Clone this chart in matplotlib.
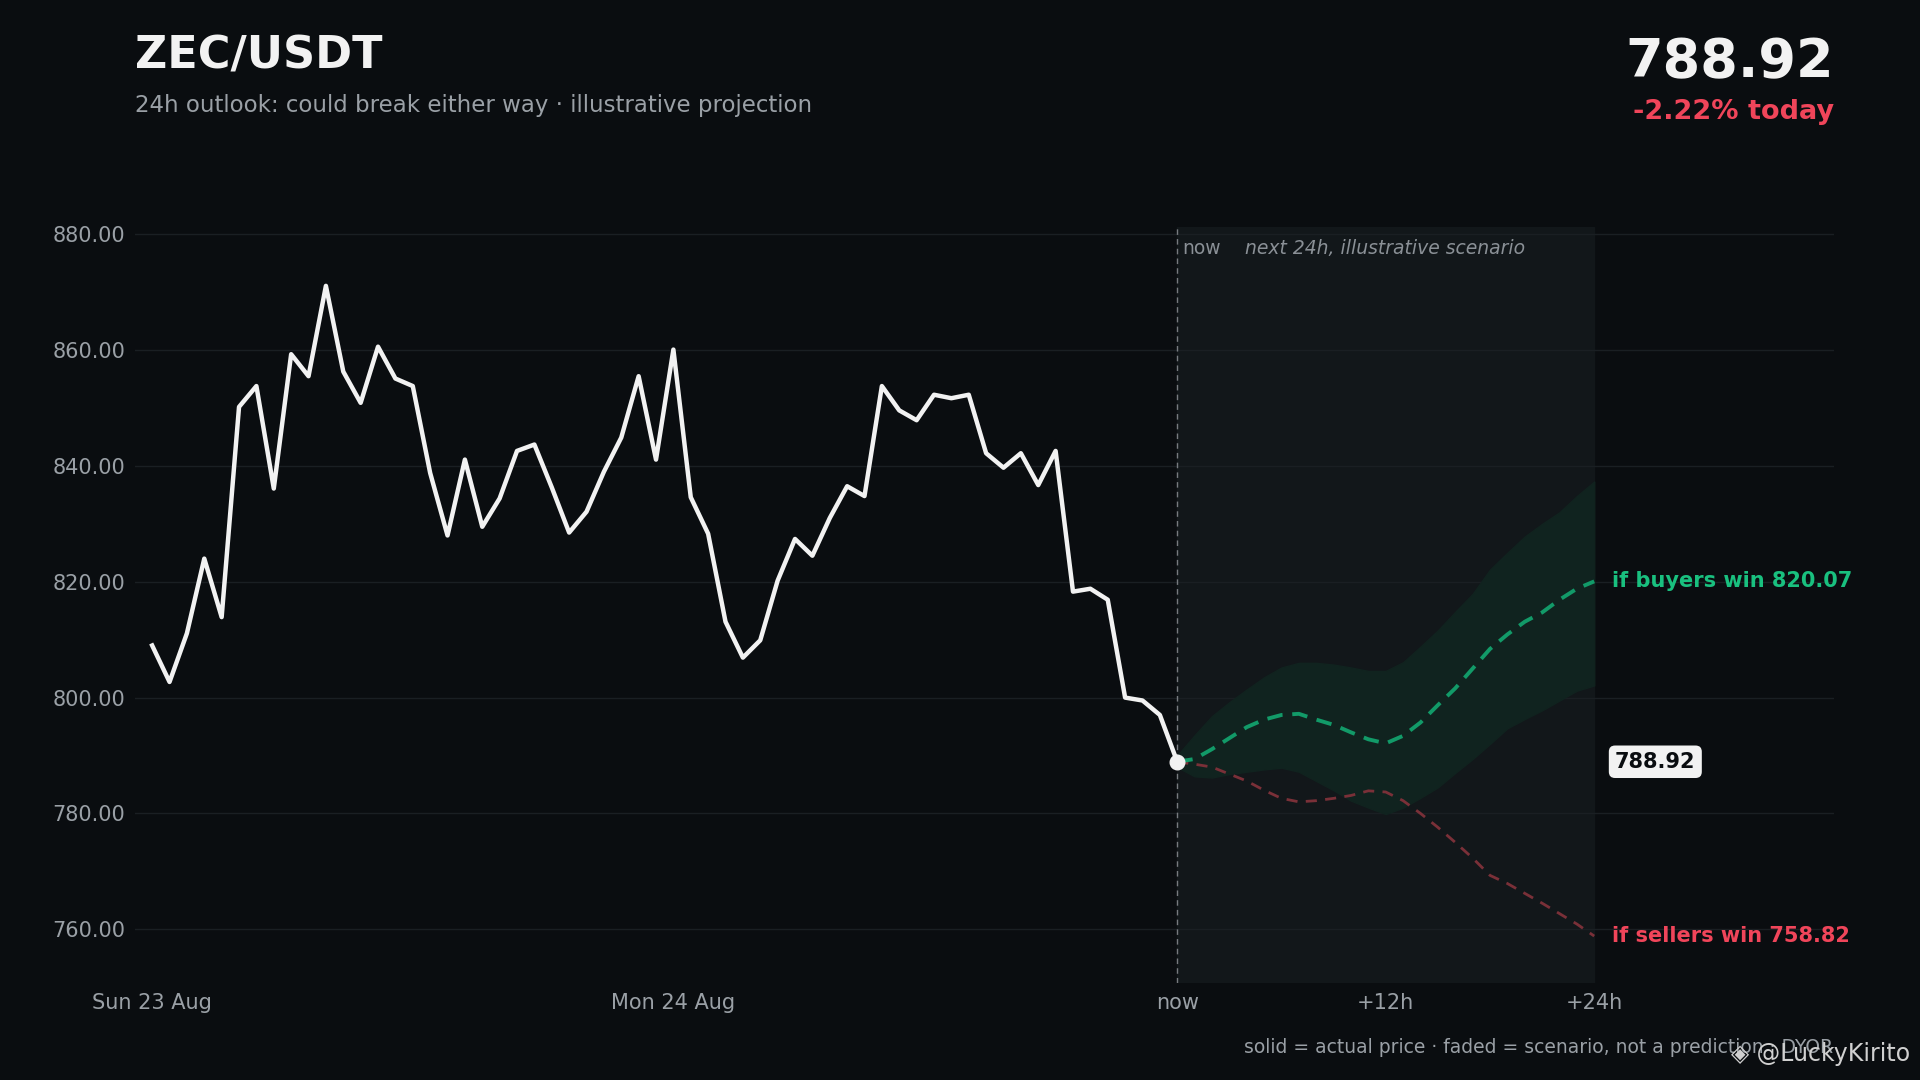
import numpy as np
import matplotlib.pyplot as plt

hist = [809.0, 802.7, 811.1, 824.0, 813.9, 850.2, 853.8, 836.1, 859.3, 855.5,
        871.1, 856.3, 850.9, 860.6, 855.1, 853.8, 838.8, 828.0, 841.1, 829.5,
        834.4, 842.6, 843.7, 836.3, 828.5, 832.1, 839.0, 844.9, 855.5, 841.1,
        860.1, 834.6, 828.3, 813.1, 806.9, 809.9, 820.2, 827.4, 824.5, 831.0,
        836.5, 834.8, 853.8, 849.6, 847.9, 852.3, 851.7, 852.3, 842.2, 839.7,
        842.2, 836.7, 842.6, 818.3, 818.8, 816.9, 800.0, 799.5, 797.0, 788.92]
bull = [788.92, 789.4, 791.1, 793.0, 794.9, 796.2, 797.0, 797.2, 796.2, 795.3,
        794.0, 792.8, 792.1, 793.4, 795.7, 798.7, 801.6, 805.0, 808.4, 810.9,
        813.1, 814.7, 816.9, 818.8, 820.07]
band_hi = [790.0, 793.5, 796.8, 799.2, 801.4, 803.5, 805.2, 806.0, 806.0, 805.7,
           805.2, 804.6, 804.6, 806.1, 808.8, 811.6, 814.8, 817.9, 822.1, 825.0,
           827.8, 830.0, 832.0, 834.8, 837.3]
band_lo = [788.0, 786.4, 786.2, 786.8, 787.2, 787.6, 787.9, 787.2, 785.6, 784.0,
           782.2, 781.0, 779.9, 781.0, 782.7, 784.5, 787.0, 789.4, 792.0, 794.7,
           796.3, 797.8, 799.5, 801.2, 802.1]
bear = [788.92, 788.5, 788.0, 786.8, 785.6, 784.0, 782.6, 782.0, 782.2, 782.6,
        783.1, 783.9, 783.7, 782.2, 780.0, 777.6, 775.0, 772.3, 769.3, 767.9,
        766.2, 764.5, 762.7, 760.9, 758.82]
yticks = [760, 780, 800, 820, 840, 860, 880]

BG = '#0a0d10'
now = len(hist) - 1
xh = np.arange(len(hist))
xf = now + np.arange(len(bull))

fig = plt.figure(figsize=(19.2, 10.8), dpi=100, facecolor=BG)
ax = fig.add_axes([0.0702, 0.09, 0.885, 0.7])
ax.set_facecolor(BG)
ax.set_xlim(-1, 96.8)
ax.set_ylim(750.75, 881.3)

ax.axvspan(now, now + 24, color='#12171a', zorder=0)
ax.axvline(now, color='#777b80', lw=1, ls=(0, (4, 3)), zorder=1)
for y in yticks:
    ax.axhline(y, color='#1a1f23', lw=1, zorder=0.5)

ax.fill_between(xf, band_lo, band_hi, color='#10231f', zorder=1.5)
ax.plot(xf, bear, color='#7a3038', lw=2, ls=(0, (4, 3)), zorder=2)
ax.plot(xf, bull, color='#129a68', lw=2.8, ls=(0, (4, 2.5)), zorder=2.5)
ax.plot(xh, hist, color='#f2f2f2', lw=3.2, zorder=3)
ax.scatter([now], [hist[-1]], s=110, color='#f2f2f2', zorder=4)

for s in ax.spines.values():
    s.set_visible(False)
ax.set_yticks(yticks)
ax.set_yticklabels([f'{v:.2f}' for v in yticks])
ax.set_xticks([0, 30, now, now + 12, now + 24])
ax.set_xticklabels(['Sun 23 Aug', 'Mon 24 Aug', 'now', '+12h', '+24h'])
ax.tick_params(length=0, colors='#9aa0a6', labelsize=15, pad=7)

ax.text(now + 0.3, 877.6, 'now', color='#8a9096', fontsize=13.5, va='center')
ax.text(now + 3.9, 877.6, 'next 24h, illustrative scenario', color='#8a9096',
        fontsize=13.5, style='italic', va='center')

ax.text(now + 25, bull[-1], f'if buyers win {bull[-1]:.2f}', color='#19c07f',
        fontsize=15, fontweight='bold', va='center')
ax.text(now + 25, bear[-1], f'if sellers win {bear[-1]:.2f}', color='#f0455a',
        fontsize=15, fontweight='bold', va='center')
ax.text(now + 25.2, hist[-1], f'{hist[-1]:.2f}', color='#0a0d10', fontsize=15,
        fontweight='bold', va='center',
        bbox=dict(boxstyle='round,pad=0.3', fc='#f2f2f2', ec='none'))

fig.text(0.0702, 0.948, 'ZEC/USDT', color='#f2f2f2', fontsize=32,
         fontweight='bold', va='center')
fig.text(0.0702, 0.902, '24h outlook: could break either way · illustrative projection',
         color='#9aa0a6', fontsize=16.5, va='center')
fig.text(0.955, 0.942, f'{hist[-1]:.2f}', color='#f2f2f2', fontsize=39,
         fontweight='bold', ha='right', va='center')
fig.text(0.955, 0.896, '-2.22% today', color='#f0455a', fontsize=19.5,
         fontweight='bold', ha='right', va='center')
fig.text(0.955, 0.03, 'solid = actual price · faded = scenario, not a prediction · DYOR',
         color='#9aa0a6', fontsize=13.5, ha='right', va='center')
fig.text(0.995, 0.024, '◈ @LuckyKirito', color='#d0d0d0', fontsize=17,
         ha='right', va='center')

fig.savefig('out.png', dpi=100, facecolor=BG)
